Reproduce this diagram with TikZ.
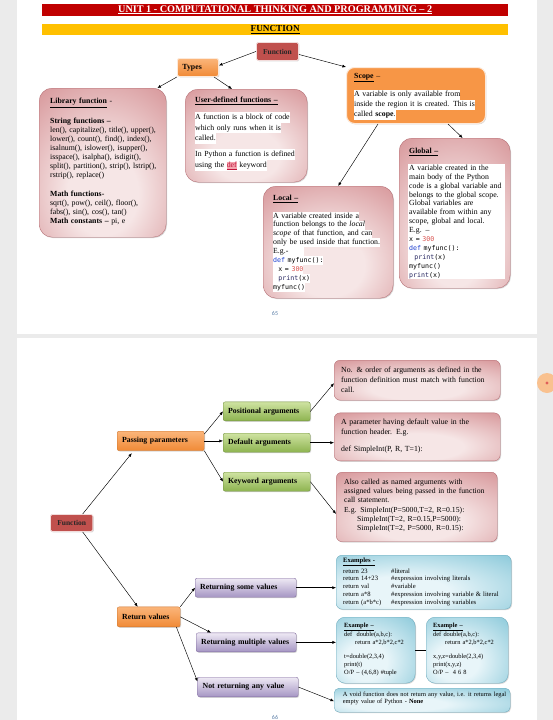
\documentclass[tikz,border=0pt]{standalone}
\usepackage{fontspec}
\setmainfont{Liberation Serif}
\newfontfamily\codefont{DejaVu Sans Mono}
\newfontfamily\pagefont{Carlito}
\usetikzlibrary{arrows.meta, shadows}

\definecolor{pagegray}{HTML}{EBEBEB}
\definecolor{unitred}{HTML}{C00000}
\definecolor{unityellow}{HTML}{FFC000}
\definecolor{funcred}{HTML}{C0504D}
\definecolor{funcline}{HTML}{F2DCDB}
\definecolor{orangefill}{HTML}{F79646}
\definecolor{orangetop}{HTML}{FBB57A}
\definecolor{orangebot}{HTML}{F08A36}
\definecolor{orangeline}{HTML}{FDE9D9}
\definecolor{pinkdark}{HTML}{CF8286}
\definecolor{pinklight}{HTML}{F6E6E6}
\definecolor{pinkline}{HTML}{B26A70}
\definecolor{bluedark}{HTML}{7CC2D5}
\definecolor{bluelight}{HTML}{E8F5F9}
\definecolor{blueline}{HTML}{6AA9BC}
\definecolor{greentop}{HTML}{CFE3A2}
\definecolor{greenbot}{HTML}{8DB34F}
\definecolor{greenline}{HTML}{71913E}
\definecolor{purpletop}{HTML}{EEE9F4}
\definecolor{purplebot}{HTML}{A595C3}
\definecolor{purpleline}{HTML}{7F6A9E}
\definecolor{kwblue}{HTML}{1C3FD0}
\definecolor{numred}{HTML}{D9534F}
\definecolor{fnnavy}{HTML}{23235E}
\definecolor{defred}{HTML}{F4A6B0}
\definecolor{defdark}{HTML}{C0143C}
\definecolor{pagenum}{HTML}{5B7FA8}
\definecolor{dotorange}{HTML}{F9C18F}
\definecolor{dotred}{HTML}{E0605A}

\pgfdeclareradialshading{pinkglow}{\pgfpoint{0bp}{-12bp}}{color(0bp)=(pinklight); color(14bp)=(pinklight); color(48bp)=(pinkdark); color(100bp)=(pinkdark)}
\pgfdeclareradialshading{blueglow}{\pgfpoint{-8bp}{-10bp}}{color(0bp)=(bluelight); color(14bp)=(bluelight); color(48bp)=(bluedark); color(100bp)=(bluedark)}

\newcommand\bodyfont[1]{\fontsize{7.8}{#1}\selectfont}
\newcommand\hlw[1]{{\fboxsep=0pt\colorbox{white}{\strut#1}}}
\newcommand\pycode[1]{{\codefont\fontsize{6.6}{8.9}\selectfont#1}}
\newcommand\pykw[1]{\textcolor{kwblue}{#1}}
\newcommand\pynum[1]{\textcolor{numred}{#1}}
\newcommand\pyfn[1]{\textcolor{fnnavy}{#1}}
\newcommand\excol[1]{\makebox[48pt][l]{#1}}

\tikzset{
    arr/.style={-{Latex[length=3.6pt, width=3pt]}, line width=0.45pt, black},
    boxshadow/.style={drop shadow={shadow xshift=0.9pt, shadow yshift=-0.9pt, opacity=0.3}},
    unitbar/.style={anchor=north west, minimum width=466pt, inner sep=0pt},
    pinkbox/.style={anchor=north west, draw=pinkline, line width=0.35pt, shading=pinkglow, rounded corners=#1, boxshadow},
    pinkbox/.default=6pt,
    bluebox/.style={anchor=north west, draw=blueline, line width=0.35pt, shading=blueglow, rounded corners=#1, boxshadow},
    bluebox/.default=6pt,
    scopebox/.style={anchor=north west, fill=orangefill, draw=orangeline, line width=1pt, rounded corners=8pt, boxshadow},
    funcnode/.style={anchor=north west, fill=funcred, draw=funcline, line width=0.9pt, rounded corners=1.5pt,
        inner sep=1pt, text=black!85, font=\bfseries\fontsize{7.5}{9}\selectfont, boxshadow},
    branch/.style={anchor=north west, inner xsep=5pt, inner ysep=0pt, align=left, rounded corners=2pt,
        line width=0.35pt, font=\bfseries\fontsize{7.8}{9}\selectfont, boxshadow},
    orangenode/.style={branch, top color=orangetop, bottom color=orangebot, draw=orangebot!85!black},
    greennode/.style={branch, top color=greentop, bottom color=greenbot, draw=greenline},
    purplenode/.style={branch, top color=purpletop, bottom color=purplebot, draw=purpleline},
    boxtext/.style={anchor=base west, inner sep=0pt, align=left, text width=#1},
    pagenumber/.style={inner sep=0pt, text=pagenum, font=\pagefont\fontsize{6}{7}\selectfont}
}

\begin{document}
\begin{tikzpicture}[x=1pt, y=-1pt]
    % sheets
    \fill[pagegray] (0,0) rectangle (553,720);
    \useasboundingbox (0,0) rectangle (553,720);
    \fill[white] (17,0) rectangle (537,334);
    \fill[white] (17,337.5) rectangle (537,720);
    \fill[dotorange] (547,383) circle[radius=10pt];
    \fill[dotred] (547,383) circle[radius=1.6pt];

    % page 65: headings
    \node[unitbar, fill=unitred, minimum height=12.4pt, text=white,
          font=\bfseries\fontsize{10.2}{12}\selectfont] (unit) at (42,3.3)
          {\underline{UNIT 1 - COMPUTATIONAL THINKING AND PROGRAMMING – 2}};
    \node[unitbar, fill=unityellow, minimum height=11pt,
          font=\bfseries\fontsize{9.2}{11}\selectfont] (topic) at (42,24) {\underline{FUNCTION}};

    % page 65: boxes
    \node[funcnode, minimum width=42pt, minimum height=18pt] (fun1) at (256,42) {Function};
    \node[orangenode, text width=31pt, minimum height=18pt, draw=orangeline, line width=0.9pt] (types) at (177,58) {Types};
    \node[scopebox, minimum width=139pt, minimum height=56pt] (scope) at (346,67) {};
    \node[pinkbox=13pt, minimum width=127pt, minimum height=149pt] (lib) at (39,88) {};
    \node[pinkbox=13pt, minimum width=122pt, minimum height=93pt] (udf) at (185,89) {};
    \node[pinkbox=13pt, minimum width=111pt, minimum height=150pt] (glob) at (399,138) {};
    \node[pinkbox=13pt, minimum width=130pt, minimum height=112pt] (loc) at (263,186) {};

    % page 65: texts
    \node[boxtext=150pt, font=\bodyfont{10}] (scopetext) at (354,78) {%
        \underline{\textbf{Scope}} –\\[7.3pt]
        \hlw{A variable is only available from}\\
        \hlw{inside the region it is created. This is}\\
        \hlw{called \textbf{scope}.}};
    \node[boxtext=200pt, font=\bodyfont{9}] (libtext) at (50,103.7) {%
        \underline{\textbf{Library function}} -\\[10pt]
        \textbf{String functions –}\\
        len(), capitalize(), title(), upper(),\\
        lower(), count(), find(), index(),\\
        isalnum(), islower(), isupper(),\\
        isspace(), isalpha(), isdigit(),\\
        split(), partition(), strip(), lstrip(),\\
        rstrip(), replace()\\[10pt]
        \textbf{Math functions-}\\
        sqrt(), pow(), ceil(), floor(),\\
        fabs(), sin(), cos(), tan()\\
        \textbf{Math constants –} pi, e};
    \node[boxtext=200pt, font=\bodyfont{10.8}] (udftext) at (195,102.7) {%
        \underline{\textbf{User-defined functions –}}\\[5.8pt]
        \hlw{A function is a block of code}\\
        \hlw{which only runs when it is}\\
        \hlw{called.}\\[5.2pt]
        \hlw{In Python a function is defined}\\
        \hlw{using the \colorbox{defred}{\textcolor{defdark}{\underline{def}}} keyword}};
    \node[boxtext=200pt, font=\bodyfont{8.9}] (loctext) at (273,200.3) {%
        \underline{\textbf{Local –}}\\[8.8pt]
        \hlw{A variable created inside a}\\
        \hlw{function belongs to the \textit{local}}\\
        \hlw{\textit{scope} of that function, and can}\\
        \hlw{only be used inside that function.}\\
        \hlw{E.g.-\hspace{16pt}}\\
        \hlw{\pycode{\pykw{def} myfunc():}}\\
        \hlw{\pycode{\ \ x = \pynum{300}}}\\
        \hlw{\pycode{\ \ \pyfn{print}(x)}}\\
        \hlw{\pycode{myfunc()}}};
    \node[boxtext=200pt, font=\bodyfont{8.9}] (globhead) at (409,153.7) {\underline{\textbf{Global –}}};
    \node[boxtext=95pt, font=\bodyfont{8.9}, fill=white, inner sep=1pt] (globtext) at (408,170.3) {%
        A variable created in the\\
        main body of the Python\\
        code is a global variable and\\
        belongs to the global scope.\\
        Global variables are\\
        available from within any\\
        scope, global and local.\\
        E.g. –\\
        \pycode{x = \pynum{300}}\\
        \pycode{\pykw{def} myfunc():}\\
        \pycode{\ \ \pyfn{print}(x)}\\
        \pycode{myfunc()}\\
        \pycode{\pyfn{print}(x)}};

    % page 65: links
    \draw[arr] (fun1.west) -- ([yshift=2pt]types.east);
    \draw[arr] ([yshift=-3pt]fun1.east) -- (scope.north west);
    \draw[arr] (types.south west) -- ([xshift=-9pt]lib.north east);
    \draw[arr] ([xshift=-5pt]types.south east) -- ([xshift=47pt]udf.north west);
    \draw[arr] ([xshift=-38pt]scope.south) -- ([xshift=10pt]loc.north);
    \draw[arr] ([xshift=32pt]scope.south) -- ([xshift=8pt]glob.north);

    \node[pagenumber] (pg65) at (275,313) {65};

    % page 66: boxes
    \node[funcnode, minimum width=42.4pt, minimum height=17pt] (fun2) at (50,514) {Function};
    \node[orangenode, text width=77pt, minimum height=19.5pt] (pass) at (117,431) {Passing parameters};
    \node[orangenode, text width=53pt, minimum height=20pt] (ret) at (117,606.7) {Return values};
    \node[greennode, text width=77pt, minimum height=19pt] (pos) at (223,401.7) {Positional arguments};
    \node[greennode, text width=77pt, minimum height=19pt] (dflt) at (223,433) {Default arguments};
    \node[greennode, text width=77pt, minimum height=19pt] (kw) at (223,472) {Keyword arguments};
    \node[purplenode, text width=91pt, minimum height=19pt] (some) at (195,578) {Returning some values};
    \node[purplenode, text width=90pt, minimum height=19pt] (multi) at (196,632.7) {Returning multiple values};
    \node[purplenode, text width=90.5pt, minimum height=19.7pt] (notret) at (197.5,677) {Not returning any value};

    \node[pinkbox=6pt, minimum width=166pt, minimum height=40pt] (order) at (334,360) {};
    \node[pinkbox=6pt, minimum width=166pt, minimum height=48pt] (dfltbox) at (334,412.7) {};
    \node[pinkbox=6pt, minimum width=161pt, minimum height=69.5pt] (named) at (336,472) {};
    \node[bluebox=6pt, minimum width=175pt, minimum height=54pt] (retex) at (336,555) {};
    \node[bluebox=9pt, minimum width=79pt, minimum height=66pt] (tupex) at (336,617) {};
    \node[bluebox=9pt, minimum width=82pt, minimum height=66pt] (unpackex) at (426,617) {};
    \node[bluebox=5pt, minimum width=176pt, minimum height=24pt] (voidbox) at (334,688) {};

    % page 66: texts
    \node[boxtext=200pt, font=\bodyfont{10.3}] (ordertext) at (341,372) {%
        No. \& order of arguments as defined in the\\
        function definition must match with function\\
        call.};
    \node[boxtext=200pt, font=\bodyfont{10}] (dflttext) at (341,424.7) {%
        A parameter having default value in the\\
        function header. E.g.\\[6.6pt]
        def SimpleInt(P, R, T=1):};
    \node[boxtext=200pt, font=\fontsize{7.7}{9.1}\selectfont] (namedtext) at (344,484.7) {%
        Also called as named arguments with\\
        assigned values being passed in the function\\
        call statement.\\
        E.g. SimpleInt(P=5000,T=2, R=0.15):\\
        \hspace*{13pt}SimpleInt(T=2, R=0.15,P=5000):\\
        \hspace*{13pt}SimpleInt(T=2, P=5000, R=0.15):};
    \node[boxtext=200pt, font=\fontsize{6.6}{7.8}\selectfont] (retextext) at (343,562) {%
        \underline{\textbf{Examples -}}\\[2.2pt]
        \excol{return 23}\#literal\\
        \excol{return 14+23}\#expression involving literals\\
        \excol{return val}\#variable\\
        \excol{return a*8}\#expression involving variable \& literal\\
        \excol{return (a*b*c)}\#expression involving variables};
    \node[boxtext=100pt, font=\fontsize{6.4}{8}\selectfont] (tuptext) at (344,627) {%
        \underline{\textbf{Example –}}\\[1.2pt]
        def\ \ double(a,b,c):\\
        \hspace*{11pt}return a*2,b*2,c*2\\[6pt]
        t=double(2,3,4)\\
        print(t)\\
        O/P – (4,6,8) \#tuple};
    \node[boxtext=100pt, font=\fontsize{6.4}{8}\selectfont] (unpacktext) at (433,627) {%
        \underline{\textbf{Example –}}\\[1.2pt]
        def double(a,b,c):\\
        \hspace*{12pt}return a*2,b*2,c*2\\[6pt]
        x,y,z=double(2,3,4)\\
        print(x,y,z)\\
        O/P –\ \ 4 6 8};
    \node[boxtext=200pt, font=\fontsize{6.4}{7.7}\selectfont] (voidtext) at (342.7,696) {%
        A void function does not return any value, i.e. it returns legal\\
        empty value of Python - \textbf{None}};

    % page 66: links
    \draw[arr, shorten >=3pt] ([xshift=11pt]fun2.north) -- ([xshift=-27pt]pass.south);
    \draw[arr] ([xshift=11pt]fun2.south) -- ([xshift=-11pt]ret.north);
    \draw[arr] ([yshift=-3pt]pass.north east) -- (pos.west);
    \draw[arr] (pass.east) -- (pass.east -| dflt.west);
    \draw[arr] (pass.south east) -- (kw.west);
    \draw[arr] (pos.east) -- ([yshift=-3pt]order.west);
    \draw[arr] (dflt.east) -- (dflt.east -| dfltbox.west);
    \draw[arr] (kw.east) -- ([yshift=-7pt]named.west);
    \draw[arr] (ret.north east) -- (some.west);
    \draw[arr] (ret.east) -- ([xshift=15pt]multi.north west);
    \draw[arr] ([xshift=-4pt]ret.south east) -- ([yshift=-4.5pt]notret.north west);
    \draw[arr] (some.east) -- (some.east -| retex.west);
    \draw[arr] (multi.east) -- (multi.east -| tupex.west);
    \draw[arr] (notret.east) -- ([yshift=-1pt]voidbox.west);
    \draw[line width=0.45pt] (tupex.east) -- (unpackex.west);

    \node[pagenumber] (pg66) at (275,717) {66};
\end{tikzpicture}
\end{document}
